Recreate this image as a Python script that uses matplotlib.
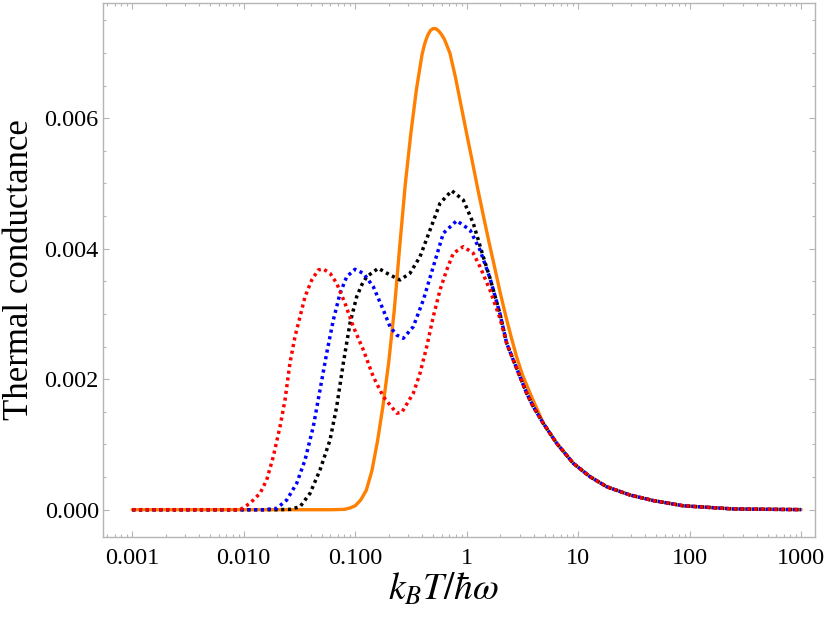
import numpy as np
import matplotlib
matplotlib.use("Agg")
import matplotlib.pyplot as plt
from matplotlib.ticker import FixedLocator, FixedFormatter, MultipleLocator, LogLocator, NullFormatter

plt.rcParams['mathtext.fontset'] = 'stix'
plt.rcParams['font.family'] = ['Liberation Serif', 'DejaVu Serif']

# ---- data (x = k_B T / hbar omega, y = thermal conductance in units of 1e-3) ----
tail_x = [2.285, 2.618, 3.006, 3.452, 3.955, 4.863, 6.413, 9.04, 12.76, 18.02, 29.2, 47.2, 87.7, 246.0, 1000.0]
tail_y = [2.55, 2.294, 2.038, 1.784, 1.579, 1.324, 1.018, 0.711, 0.506, 0.352, 0.225, 0.14, 0.06, 0.012, 0.0015]

orange_x = [0.001, 0.03, 0.06, 0.0794, 0.0891, 0.1, 0.1122, 0.1259, 0.1413, 0.1585, 0.1778, 0.1995,
            0.2239, 0.2512, 0.2818, 0.3162, 0.3548, 0.3981, 0.4217, 0.4467, 0.4732, 0.5012, 0.5309,
            0.5623, 0.5957, 0.631, 0.7079, 0.7943, 0.8913, 1.0, 1.122, 1.259, 1.413, 1.585, 1.778,
            1.995, 2.239, 2.512, 2.818, 3.162, 3.548, 3.981, 4.467]
orange_y = [0.0, 0.0, 0.0, 0.005, 0.025, 0.06, 0.15, 0.30, 0.60, 1.05, 1.60, 2.25,
            3.05, 4.05, 5.0, 5.78, 6.45, 6.98, 7.15, 7.27, 7.345, 7.375, 7.37,
            7.335, 7.28, 7.21, 6.995, 6.62, 6.19, 5.76, 5.34, 4.91, 4.50, 4.10, 3.72,
            3.33, 2.97, 2.64, 2.33, 2.07, 1.86, 1.66, 1.47]

black_x = [0.001, 0.02, 0.026, 0.032, 0.03934, 0.04831, 0.05943, 0.06823, 0.0782, 0.0898, 0.1031, 0.1148,
           0.1268, 0.1611, 0.2053, 0.2523, 0.3097, 0.3812, 0.4689, 0.5763, 0.7336, 0.932, 1.146, 1.408,
           1.617, 1.99]
black_y = [0.0, 0.0, 0.006, 0.046, 0.251, 0.608, 1.068, 1.579, 2.244, 2.857, 3.264, 3.45,
           3.571, 3.70, 3.597, 3.521, 3.623, 3.877, 4.287, 4.696, 4.889, 4.746, 4.389, 3.877,
           3.55, 3.0]

blue_x = [0.001, 0.015, 0.01977, 0.02432, 0.02988, 0.03548, 0.04208, 0.04831, 0.05549, 0.06365, 0.07311,
          0.08394, 0.09955, 0.1183, 0.1453, 0.1787, 0.2053, 0.2355, 0.27, 0.3319, 0.4083, 0.5015, 0.6167,
          0.8134, 1.071, 1.316, 1.617, 1.99]
blue_y = [0.0, 0.0, 0.021, 0.149, 0.405, 0.762, 1.272, 1.834, 2.397, 2.907, 3.316,
          3.571, 3.684, 3.623, 3.418, 3.061, 2.805, 2.677, 2.627, 2.805, 3.214, 3.724, 4.236,
          4.429, 4.287, 3.98, 3.55, 3.0]

red_x = [0.001, 0.00927, 0.01138, 0.014, 0.01607, 0.01842, 0.02117, 0.02346, 0.026, 0.02884, 0.03199,
         0.03548, 0.04074, 0.04667, 0.05176, 0.05943, 0.06823, 0.08106, 0.09616, 0.1183, 0.1453, 0.1787,
         0.2355, 0.2612, 0.3319, 0.3812, 0.4378, 0.5015, 0.5763, 0.6617, 0.7585, 0.932, 1.146, 1.316,
         1.617, 1.99]
red_y = [0.0, 0.0, 0.098, 0.251, 0.455, 0.812, 1.272, 1.681, 2.248, 2.651, 2.958,
         3.264, 3.52, 3.674, 3.689, 3.623, 3.47, 3.163, 2.805, 2.448, 2.038, 1.732,
         1.48, 1.49, 1.784, 2.09, 2.498, 2.958, 3.367, 3.674, 3.93, 4.031, 3.93, 3.724,
         3.367, 2.93]

xticks = [0.001, 0.01, 0.1, 1, 10, 100, 1000]
xticklabels = ["0.001", "0.010", "0.100", "1", "10", "100", "1000"]
yticks = [0.0, 0.002, 0.004, 0.006]
yticklabels = ["0.000", "0.002", "0.004", "0.006"]

fig = plt.figure(figsize=(8.25, 6.29), dpi=100)
ax = fig.add_axes([103/825, 1-537/629, (815-103)/825, (537-3)/629])

def full(xs, ys):
    return np.array(list(xs) + tail_x), np.array(list(ys) + tail_y) * 1e-3

ox, oy = np.array(orange_x + tail_x[5:]), np.array(orange_y + tail_y[5:]) * 1e-3
ax.plot(ox, oy, color='#FF8000', lw=2.4, solid_capstyle='round', solid_joinstyle='round', zorder=2)
for xs, ys, c in [(black_x, black_y, 'black'), (blue_x, blue_y, '#0000FF'), (red_x, red_y, '#FF0000')]:
    fx, fy = full(xs, ys)
    ax.plot(fx, fy, color=c, lw=2.5, linestyle=(0, (0.9, 1.05)), zorder=3)

ax.set_xscale('log')
ax.set_xlim(10**-3.262, 10**3.124)
ax.set_ylim(-0.000418, 0.007765)

ax.xaxis.set_major_locator(FixedLocator(xticks))
ax.xaxis.set_major_formatter(FixedFormatter(xticklabels))
ax.xaxis.set_minor_locator(LogLocator(base=10, subs=np.arange(2, 10)))
ax.xaxis.set_minor_formatter(NullFormatter())
ax.yaxis.set_major_locator(FixedLocator(yticks))
ax.yaxis.set_major_formatter(FixedFormatter(yticklabels))
ax.yaxis.set_minor_locator(MultipleLocator(0.0005))

frame_c = '#B5B5B5'
for s in ax.spines.values():
    s.set_color(frame_c)
    s.set_linewidth(1.0)
ax.tick_params(which='both', direction='in', top=True, right=True, color=frame_c, width=0.8,
               labelsize=17.5, labelcolor='black')
ax.tick_params(which='major', length=4.0)
ax.tick_params(which='minor', length=2.2)
ax.tick_params(axis='x', pad=8)
ax.tick_params(axis='y', pad=3)

ax.set_xlabel(r'$k_B T/\hbar\omega$', fontsize=27)
ax.xaxis.set_label_coords((443 - 103) / (815 - 103), -(590 - 537) / (537 - 3), transform=ax.transAxes)
ax.xaxis.label.set_va('center')
ax.set_ylabel('Thermal conductance', fontsize=25, labelpad=6)

fig.savefig('out.png', dpi=100)
